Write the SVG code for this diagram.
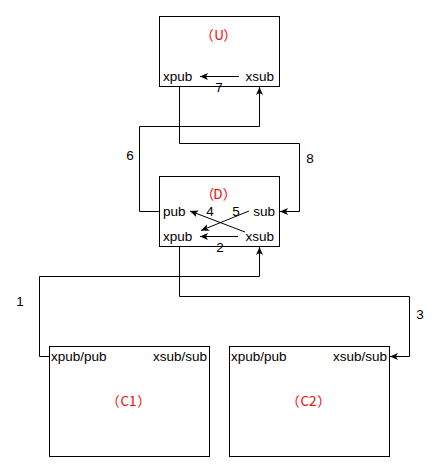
<svg xmlns="http://www.w3.org/2000/svg" width="439" height="473" viewBox="0 0 439 473">
<style>
.box{fill:#fff;stroke:#000;stroke-width:1}
.t{font-family:"Liberation Sans",Arial,sans-serif;font-size:13.5px;fill:#000}
.r{font-family:"Noto Sans CJK TC","Liberation Sans",sans-serif;font-size:13.5px;fill:#ff0000;text-anchor:middle}
.c{fill:none;stroke:#000;stroke-width:1}
</style>
<defs>
<marker id="a" markerUnits="userSpaceOnUse" markerWidth="9" markerHeight="8" refX="8" refY="4" orient="auto">
<path d="M0,0.5 L8,4 L0,7.5 L2,4 Z" fill="#000"/>
</marker>
</defs>
<rect width="439" height="473" fill="#fff"/>
<g id="U">
<rect class="box" x="159.5" y="16.5" width="120" height="70"/>
<text class="r" y="40"><tspan x="207">（</tspan><tspan x="219">U</tspan><tspan x="230">）</tspan></text>
<text class="t" x="163" y="81">xpub</text>
<text class="t" x="274" y="81" text-anchor="end">xsub</text>
</g>
<g id="D">
<rect class="box" x="159.5" y="176.5" width="120" height="70"/>
<text class="r" y="199"><tspan x="207.5">（</tspan><tspan x="218">D</tspan><tspan x="229.5">）</tspan></text>
<text class="t" x="163" y="216">pub</text>
<text class="t" x="275" y="216" text-anchor="end">sub</text>
<text class="t" x="163" y="241">xpub</text>
<text class="t" x="274" y="241" text-anchor="end">xsub</text>
</g>
<g id="C1">
<rect class="box" x="49.5" y="346.5" width="160" height="110"/>
<text class="t" x="51" y="361">xpub/pub</text>
<text class="t" x="207" y="361" text-anchor="end">xsub/sub</text>
<text class="r" y="406"><tspan x="113">（</tspan><tspan x="128.5">C1</tspan><tspan x="144">）</tspan></text>
</g>
<g id="C2">
<rect class="box" x="229.5" y="346.5" width="160" height="110"/>
<text class="t" x="231" y="361">xpub/pub</text>
<text class="t" x="387" y="361" text-anchor="end">xsub/sub</text>
<text class="r" y="406"><tspan x="293">（</tspan><tspan x="308.5">C2</tspan><tspan x="324">）</tspan></text>
</g>
<g id="connectors">
<path class="c" d="M239,76.5 L200,76.5" marker-end="url(#a)"/>
<path class="c" d="M159.5,211.5 L139.5,211.5 L139.5,126.5 L259.5,126.5 L259.5,87" marker-end="url(#a)"/>
<path class="c" d="M179.5,86.5 L179.5,143.5 L299.5,143.5 L299.5,211.5 L280,211.5" marker-end="url(#a)"/>
<path class="c" d="M245,232 L190,211" marker-end="url(#a)"/>
<path class="c" d="M249,211 L201,230.5" marker-end="url(#a)"/>
<path class="c" d="M238,236.5 L200,236.5" marker-end="url(#a)"/>
<path class="c" d="M49.5,356.5 L39.5,356.5 L39.5,276.5 L259.5,276.5 L259.5,247" marker-end="url(#a)"/>
<path class="c" d="M179.5,246.5 L179.5,296.5 L409.5,296.5 L409.5,356.5 L390,356.5" marker-end="url(#a)"/>
<text class="t" x="219" y="92" text-anchor="middle">7</text>
<text class="t" x="130" y="160" text-anchor="middle">6</text>
<text class="t" x="310" y="163" text-anchor="middle">8</text>
<text class="t" x="210" y="216" text-anchor="middle">4</text>
<text class="t" x="236" y="216" text-anchor="middle">5</text>
<text class="t" x="220" y="252" text-anchor="middle">2</text>
<text class="t" x="20" y="306" text-anchor="middle">1</text>
<text class="t" x="420" y="319" text-anchor="middle">3</text>
</g>
</svg>
